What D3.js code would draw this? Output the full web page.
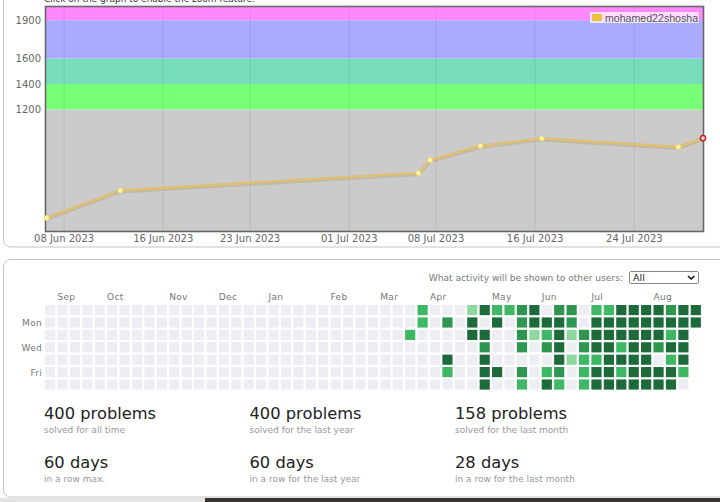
<!DOCTYPE html>
<html>
<head>
<meta charset="utf-8">
<script src="https://cdn.jsdelivr.net/npm/d3@7"></script>
<style>
  html, body { margin: 0; padding: 0; background: #fff; overflow: hidden; }
  svg { display: block; font-family: "DejaVu Sans", sans-serif; }
</style>
</head>
<body>
<svg id="page" width="720" height="502"></svg>
<script>
// rating graph data
const ratingDates = ["2023-06-06T13:00Z", "2023-06-12T12:00Z", "2023-07-06T13:00Z", "2023-07-07T12:00Z",
  "2023-07-11T13:00Z", "2023-07-16T12:00Z", "2023-07-27T12:00Z", "2023-07-29T12:00Z"];
const ratingValues = [349, 565, 702, 804, 914, 973, 906, 976];
const xTickDates = ["2023-06-08", "2023-06-16", "2023-06-23", "2023-07-01", "2023-07-08", "2023-07-16", "2023-07-24"];
const yTickValues = [1200, 1400, 1600, 1900];
const bandEdges = [247, 1200, 1400, 1600, 1900, 2004];
const handle = "mohamed22shosha";

// activity levels, one list per weekday, starting at week 29 (older weeks are all empty)
const firstActiveWeek = 29;
const sunLevels = [0, 2, 0, 0, 0, 1, 4, 2, 2, 3, 4, 0, 3, 3, 0, 2, 2, 4, 4, 4, 4, 3, 4, 4];
const monLevels = [0, 2, 0, 3, 0, 4, 0, 4, 0, 3, 4, 4, 4, 3, 0, 4, 4, 4, 4, 4, 4, 4, 4, 4];
const tueLevels = [2, 0, 0, 0, 0, 4, 4, 0, 0, 3, 1, 2, 4, 1, 3, 4, 4, 4, 4, 4, 4, 2, 4];
const wedLevels = [0, 0, 0, 0, 0, 0, 3, 0, 0, 3, 0, 3, 4, 0, 3, 4, 4, 2, 4, 4, 3, 4, 4];
const thuLevels = [0, 0, 0, 4, 0, 0, 4, 0, 0, 0, 0, 0, 4, 1, 2, 2, 4, 4, 4, 4, 0, 2, 4];
const friLevels = [0, 0, 0, 2, 0, 0, 4, 4, 0, 3, 0, 2, 3, 0, 2, 4, 4, 2, 4, 4, 4, 4, 2];
const satLevels = [0, 0, 0, 0, 0, 0, 4, 0, 0, 2, 0, 4, 2, 0, 2, 4, 4, 4, 4, 4, 4, 4, 0];
const weekCount = 53;
const monthNames = ["Sep", "Oct", "Nov", "Dec", "Jan", "Feb", "Mar", "Apr", "May", "Jun", "Jul", "Aug"];
const monthWeeks = [1, 5, 10, 14, 18, 23, 27, 31, 36, 40, 44, 49];
const dayNames = ["Mon", "Wed", "Fri"];
const dayRows = [1, 3, 5];

// summary text under the heatmap
const statValues = ["400 problems", "400 problems", "158 problems", "60 days", "60 days", "28 days"];
const statNotes = ["solved for all time", "solved for the last year", "solved for the last month",
  "in a row max.", "in a row for the last year", "in a row for the last month"];

const svg = d3.select("#page");
const parseDate = d => new Date(d);

// panels
svg.append("path")
  .attr("d", "M3.5,-5V240a7,7 0 0 0 7,7H725")
  .attr("fill", "none").attr("stroke", "#c4c4c4");
svg.append("path")
  .attr("d", "M725,259.5H10.5a7,7 0 0 0 -7,7V490a7,7 0 0 0 7,7H725")
  .attr("fill", "none").attr("stroke", "#c4c4c4");
svg.append("rect").attr("x", 0).attr("y", 498).attr("width", 205).attr("height", 4).attr("fill", "#e4e4e4");
svg.append("rect").attr("x", 205).attr("y", 498).attr("width", 515).attr("height", 4).attr("fill", "#3c3430");

svg.append("text").attr("x", 44).attr("y", 2).attr("font-size", 9).attr("fill", "#333")
  .text("Click on the graph to enable the zoom feature.");

// rating graph
const x = d3.scaleUtc()
  .domain([parseDate("2023-06-06T12:00Z"), parseDate("2023-07-29T12:00Z")])
  .range([46, 703]);
const y = d3.scaleLinear().domain([247, 2004]).range([231, 7]);
const bandColors = ["#cbcbcb", "#77ff77", "#77ddbb", "#aaaaff", "#ff88ff"];

svg.append("g").selectAll("rect")
  .data(d3.pairs(bandEdges))
  .join("rect")
  .attr("x", 45.5)
  .attr("width", 658)
  .attr("y", d => y(d[1]))
  .attr("height", d => y(d[0]) - y(d[1]))
  .attr("fill", (d, i) => bandColors[i]);

const xAxis = svg.append("g")
  .attr("transform", "translate(-1,231)")
  .call(d3.axisBottom(x)
    .tickValues(xTickDates.map(parseDate))
    .tickFormat(d3.utcFormat("%d %b %Y"))
    .tickSize(-224)
    .tickPadding(4));
xAxis.select(".domain").remove();
xAxis.selectAll("line").attr("stroke", "#545454").attr("stroke-opacity", 0.12);
xAxis.selectAll("text").attr("font-size", 10).attr("font-family", "DejaVu Sans").attr("fill", "#666");

const yAxis = svg.append("g")
  .attr("transform", "translate(45,0)")
  .call(d3.axisLeft(y).tickValues(yTickValues).tickFormat(d3.format("d")).tickSize(0).tickPadding(4));
yAxis.select(".domain").remove();
yAxis.selectAll("text").attr("font-size", 10).attr("font-family", "DejaVu Sans").attr("fill", "#666");

svg.append("rect")
  .attr("x", 45.5).attr("y", 6.5).attr("width", 658).attr("height", 225)
  .attr("fill", "none").attr("stroke", "#6a666c").attr("stroke-width", 1.6);

const ratingPoints = ratingDates.map((d, i) => [x(parseDate(d)), y(ratingValues[i])]);
const ratingLine = d3.line();
svg.append("path")
  .attr("d", ratingLine(ratingPoints))
  .attr("fill", "none").attr("stroke", "#b8a888").attr("stroke-width", 4).attr("stroke-opacity", 0.5)
  .attr("transform", "translate(0,1)");
svg.append("path")
  .attr("d", ratingLine(ratingPoints))
  .attr("fill", "none").attr("stroke", "#e0c070").attr("stroke-width", 2.4);

svg.append("g").selectAll("circle")
  .data(ratingPoints)
  .join("circle")
  .attr("cx", d => d[0])
  .attr("cy", d => d[1])
  .attr("r", (d, i) => i === ratingPoints.length - 1 ? 2.6 : 2.5)
  .attr("fill", (d, i) => i === ratingPoints.length - 1 ? "#f4e0d8" : "#fff59a")
  .attr("stroke", (d, i) => i === ratingPoints.length - 1 ? "#c8202c" : "#edd878")
  .attr("stroke-width", (d, i) => i === ratingPoints.length - 1 ? 1.5 : 0.8);

// legend
svg.append("rect").attr("x", 590).attr("y", 12).attr("width", 109).attr("height", 11).attr("fill", "#fff").attr("fill-opacity", 0.72);
svg.append("rect").attr("x", 592).attr("y", 14).attr("width", 10).attr("height", 7).attr("fill", "#edc240");
svg.append("text").attr("x", 605).attr("y", 22).attr("font-size", 10.6).attr("font-family", "Liberation Sans").attr("fill", "#545454").text(handle);

// activity selector
svg.append("text").attr("x", 623).attr("y", 281).attr("text-anchor", "end").attr("font-size", 9.1).attr("fill", "#777")
  .text("What activity will be shown to other users:");
svg.append("rect").attr("x", 629.5).attr("y", 271.5).attr("width", 69).attr("height", 12).attr("rx", 1.5).attr("fill", "#fff").attr("stroke", "#8a8a8a");
svg.append("text").attr("x", 633).attr("y", 281).attr("font-size", 9.5).attr("fill", "#222").text("All");
svg.append("path").attr("d", "M688,276l3.2,3l3.2,-3").attr("fill", "none").attr("stroke", "#111").attr("stroke-width", 1.6);

// heatmap
const levelRows = [sunLevels, monLevels, tueLevels, wedLevels, thuLevels, friLevels, satLevels];
const cells = [];
levelRows.forEach((levels, row) => {
  d3.range(weekCount).forEach(week => {
    const level = levels[week - firstActiveWeek];
    if (level !== undefined || week < firstActiveWeek) {
      cells.push({ week, row, level: level || 0 });
    }
  });
});

const weekScale = d3.scaleBand().domain(d3.range(weekCount)).range([45, 700.9]).paddingInner(0.18);
const rowScale = d3.scaleBand().domain(d3.range(7)).range([305, 389.6]).paddingInner(0.18);
const levelColor = d3.scaleOrdinal().domain([0, 1, 2, 3, 4]).range(["#eceef4", "#8ed8a0", "#3eb864", "#2e9650", "#1d6b3a"]);

svg.append("g").selectAll("rect")
  .data(cells)
  .join("rect")
  .attr("x", d => weekScale(d.week))
  .attr("y", d => rowScale(d.row))
  .attr("width", weekScale.bandwidth())
  .attr("height", rowScale.bandwidth())
  .attr("fill", d => levelColor(d.level));

svg.append("g").selectAll("text")
  .data(monthNames)
  .join("text")
  .attr("x", (d, i) => weekScale(monthWeeks[i]))
  .attr("y", 300)
  .attr("font-size", 9)
  .attr("letter-spacing", 0.3)
  .attr("fill", "#777")
  .text(d => d);

svg.append("g").selectAll("text")
  .data(dayNames)
  .join("text")
  .attr("x", 42)
  .attr("y", (d, i) => rowScale(dayRows[i]) + 8.5)
  .attr("text-anchor", "end")
  .attr("font-size", 9)
  .attr("letter-spacing", 0.3)
  .attr("fill", "#777")
  .text(d => d);

// summary
const statX = d3.scalePoint().domain([0, 1, 2]).range([44, 455]);
const statY = d3.scalePoint().domain([0, 1]).range([419, 468]);

svg.append("g").selectAll("text")
  .data(statValues)
  .join("text")
  .attr("x", (d, i) => statX(i % 3))
  .attr("y", (d, i) => statY(Math.floor(i / 3)))
  .attr("font-size", 16.3)
  .attr("fill", "#222")
  .text(d => d);

svg.append("g").selectAll("text")
  .data(statNotes)
  .join("text")
  .attr("x", (d, i) => statX(i % 3))
  .attr("y", (d, i) => statY(Math.floor(i / 3)) + 14)
  .attr("font-size", 9)
  .attr("fill", "#999")
  .text(d => d);
</script>
</body>
</html>
